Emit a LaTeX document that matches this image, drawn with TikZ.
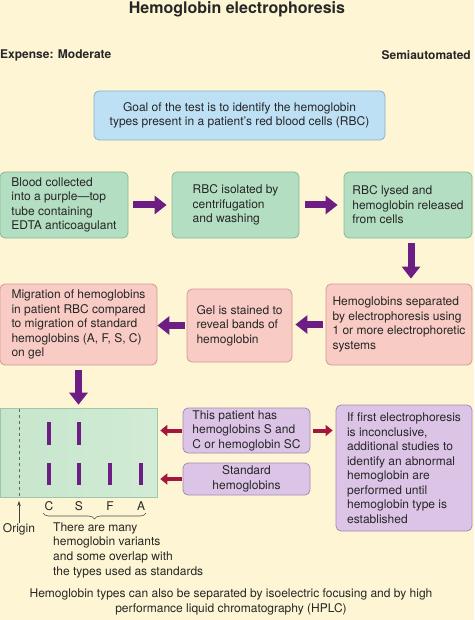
\documentclass[tikz,border=0pt]{standalone}
\usepackage{fontspec}
\setmainfont{TeX Gyre Heros}
\usetikzlibrary{arrows.meta,decorations.pathreplacing}
\definecolor{bgcream}{HTML}{FDF5D3}
\definecolor{boxblue}{HTML}{BEE0F5}
\definecolor{boxblueline}{HTML}{8AAFC8}
\definecolor{boxgreen}{HTML}{B3DEC2}
\definecolor{boxgreenline}{HTML}{86B896}
\definecolor{boxpink}{HTML}{F8CBC4}
\definecolor{boxpinkline}{HTML}{D39A93}
\definecolor{boxlilac}{HTML}{DCC4E7}
\definecolor{boxlilacline}{HTML}{A58AB3}
\definecolor{gelgreen}{HTML}{C6E6CB}
\definecolor{arrowpurple}{HTML}{6C1E84}
\definecolor{arrowred}{HTML}{A3173F}
\tikzset{
  box/.style={rounded corners=5pt, line width=0.8pt, align=left, inner sep=0pt,
    text=black!85, font=\fontsize{12}{14.5}\selectfont},
  greenbox/.style={box, fill=boxgreen, draw=boxgreenline},
  bluebox/.style={box, fill=boxblue, draw=boxblueline, align=center},
  pinkbox/.style={box, fill=boxpink, draw=boxpinkline},
  lilacbox/.style={box, fill=boxlilac, draw=boxlilacline},
  plain/.style={text=black!85, font=\fontsize{12}{14.7}\selectfont, inner sep=0pt},
  bigarrow/.style={line width=7pt, draw=arrowpurple, -{Triangle[length=12pt,width=18pt]}},
  redarrow/.style={line width=4pt, draw=arrowred, -{Triangle[length=7pt,width=11pt]}},
  band/.style={line width=3.5pt, draw=arrowpurple}
}

\begin{document}
\begin{tikzpicture}[x=1pt,y=-1pt]
  \fill[bgcream] (0,0) rectangle (474,620);
  \useasboundingbox (0,0) rectangle (474,620);

  \node[plain, font=\fontsize{16}{18}\selectfont\bfseries] (title) at (237,9) {Hemoglobin electrophoresis};
  \node[plain, font=\fontsize{12}{14}\selectfont\bfseries, anchor=west] (expense) at (0,55) {Expense: Moderate};
  \node[plain, font=\fontsize{12}{14}\selectfont\bfseries, anchor=east] (auto) at (471,55) {Semiautomated};

  \node[bluebox, minimum width=291pt, minimum height=49pt] (goal) at (239.5,115.5)
    {Goal of the test is to identify the hemoglobin\\types present in a patient’s red blood cells (RBC)};

  \node[greenbox, minimum width=128pt, minimum height=66pt] (blood) at (64,205)
    {Blood collected\\into a purple—top\\tube containing\\EDTA anticoagulant};
  \node[greenbox, minimum width=127pt, minimum height=66pt] (rbc) at (235.5,205)
    {RBC isolated by\\centrifugation\\and washing};
  \node[greenbox, minimum width=128pt, minimum height=66pt] (lysed) at (408,205)
    {RBC lysed and\\hemoglobin released\\from cells};

  \node[pinkbox, minimum width=146pt, minimum height=81pt] (sep) at (399,324.5)
    {Hemoglobins separated\\by electrophoresis using\\1 or more electrophoretic\\systems};
  \node[pinkbox, minimum width=105pt, minimum height=73pt] (stain) at (239.5,325.5)
    {Gel is stained to\\reveal bands of\\hemoglobin};
  \node[pinkbox, minimum width=157pt, minimum height=81pt] (migr) at (78.5,324.5)
    {Migration of hemoglobins\\in patient RBC compared\\to migration of standard\\hemoglobins (A, F, S, C)\\on gel};

  \node[draw=boxgreenline!80, line width=0.6pt, left color=gelgreen, right color=gelgreen!80!white,
    minimum width=157pt, minimum height=89pt, inner sep=0pt] (gel) at (78.5,452.5) {};
  \draw[dashed, black!60, line width=0.5pt] (19,409) -- (19,496);
  \foreach \bx in {49,79}
    \draw[band] (\bx,422) -- (\bx,445);
  \foreach \bx/\lab in {49/C,79/S,110/F,141/A} {
    \draw[band] (\bx,463) -- (\bx,485);
    \node[plain] (lab\lab) at (\bx,506) {\lab};
  }
  \draw[decorate, decoration={brace, amplitude=6pt}, black!70, line width=0.6pt] (146,513) -- (43,513);
  \node[plain] (origin) at (19,529) {Origin};
  \coordinate (origintip) at (19,501);
  \draw[-{Stealth[length=5pt,width=3.5pt]}, black!75, line width=0.6pt] (origin.north) -- (origintip);
  \node[plain, align=left, anchor=west] (variants) at (53,550)
    {There are many\\hemoglobin variants\\and some overlap with\\the types used as standards};

  \node[lilacbox, minimum width=127pt, minimum height=45pt] (patient) at (246.5,430.5)
    {This patient has\\hemoglobins S and\\C or hemoglobin SC};
  \node[lilacbox, align=center, minimum width=127pt, minimum height=32pt] (std) at (246.5,479)
    {Standard\\hemoglobins};
  \node[lilacbox, minimum width=136pt, minimum height=126pt] (iffirst) at (404,468)
    {If first electrophoresis\\is inconclusive,\\additional studies to\\identify an abnormal\\hemoglobin are\\performed until\\hemoglobin type is\\established};

  \node[plain, align=center] (footer) at (231,602)
    {Hemoglobin types can also be separated by isoelectric focusing and by high\\performance liquid chromatography (HPLC)};

  \draw[bigarrow, shorten <=5pt, shorten >=5pt] (blood) -- (rbc);
  \draw[bigarrow, shorten <=6pt, shorten >=6pt] (rbc) -- (lysed);
  \draw[bigarrow, shorten <=5pt, shorten >=5pt] ([xshift=3pt]lysed.south) -- ([xshift=3pt]lysed.south |- sep.north);
  \draw[bigarrow, shorten <=3pt, shorten >=3pt] (sep.west) -- (sep.west -| stain.east);
  \draw[bigarrow, shorten <=2pt] (stain.west) -- (stain.west -| migr.east);
  \draw[bigarrow, shorten <=5pt, shorten >=3pt] (migr.south) -- (migr.south |- gel.north);

  \draw[redarrow, shorten <=1pt, shorten >=3pt] (patient.west) -- (patient.west -| gel.east);
  \draw[redarrow, shorten <=1pt, shorten >=3pt] (std.west) -- (std.west -| gel.east);
  \draw[redarrow, shorten <=3pt, shorten >=3pt] (patient.east) -- (patient.east -| iffirst.west);
\end{tikzpicture}
\end{document}
